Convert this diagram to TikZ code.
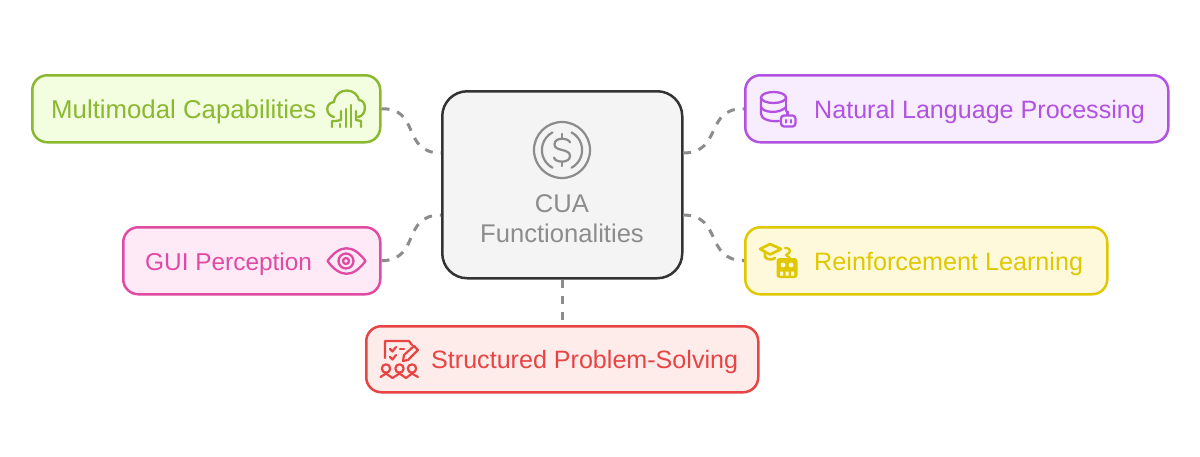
\documentclass[tikz,border=0pt]{standalone}
\usepackage{fontspec}
\setmainfont{Liberation Sans}
\definecolor{gS}{HTML}{8AB82E}\definecolor{gF}{HTML}{F3FDE0}
\definecolor{pS}{HTML}{E04AA2}\definecolor{pF}{HTML}{FEEAF7}
\definecolor{vS}{HTML}{B152E0}\definecolor{vF}{HTML}{F8EDFF}
\definecolor{yS}{HTML}{E0C800}\definecolor{yF}{HTML}{FFF9DC}
\definecolor{rS}{HTML}{E84444}\definecolor{rF}{HTML}{FEECEB}
\definecolor{cS}{HTML}{333333}\definecolor{cF}{HTML}{F4F4F4}
\definecolor{cT}{HTML}{8C8C8C}
\tikzset{
  card/.style={draw=#1S,fill=#1F,line width=2.5pt,rounded corners=15pt,inner sep=0pt},
  lbl/.style={text=#1S,inner sep=0pt,anchor=base west},
  ico/.style={draw=#1S,line width=2.3pt,line cap=round,line join=round},
  link/.style={draw=cT,line width=3pt,dash pattern=on 8pt off 8pt}
}
\newcommand{\fsz}[1]{\fontsize{#1}{30}\selectfont}
\begin{document}
\begin{tikzpicture}[x=1pt,y=-1pt]
\useasboundingbox (0,0) rectangle (1200,456);
% connectors
\coordinate (c1) at (441,153);\coordinate (c2) at (441,215);
\coordinate (c3) at (683,153);\coordinate (c4) at (683,215);
% boxes
\node[card=g,minimum width=348pt,minimum height=67pt,anchor=north west] (mm) at (31,74) {};
\node[card=p,minimum width=257pt,minimum height=67pt,anchor=north west] (gui) at (122,226) {};
\node[card=v,minimum width=423pt,minimum height=67pt,anchor=north west] (nlp) at (744,74) {};
\node[card=y,minimum width=362pt,minimum height=67pt,anchor=north west] (rl) at (744,226) {};
\node[card=r,minimum width=392pt,minimum height=66pt,anchor=north west] (sps) at (365,325) {};
\node[draw=cS,fill=cF,line width=2.5pt,rounded corners=25pt,minimum width=240pt,minimum height=187pt,anchor=north west,inner sep=0pt] (cen) at (441,90) {};
\draw[link] (mm.east) .. controls (421,108) and (401,153) .. (c1);
\draw[link] (gui.east) .. controls (421,260) and (401,215) .. (c2);
\draw[link] (c3) .. controls (723,153) and (704,108) .. (nlp.west);
\draw[link] (c4) .. controls (723,215) and (704,260) .. (rl.west);
\draw[link] (cen.south) -- (sps.north -| cen.south);
% labels
\node[lbl=g,font=\fsz{25.8}] (t1) at (51,118) {Multimodal Capabilities};
\node[lbl=p,font=\fsz{24.4}] (t2) at (145,270) {GUI Perception};
\node[lbl=v,font=\fsz{25.1}] (t3) at (814,118) {Natural Language Processing};
\node[lbl=y,font=\fsz{25.2}] (t4) at (814,270) {Reinforcement Learning};
\node[lbl=r,font=\fsz{25.1}] (t5) at (431,368) {Structured Problem-Solving};
\node[font=\fsz{25.6},text=cT,align=center,inner sep=0pt] (t0) at (562,218.5) {CUA\\Functionalities};
% centre icon
\begin{scope}[draw=cT,line width=2.2pt,line cap=round]
\draw (562,150) circle (28);
\draw (552.5,132.4) arc (242:118:20);
\draw (571.5,132.4) arc (-62:62:20);
\draw (562,134) -- (562,138) (562,162) -- (562,166);
\draw (570,142.5) .. controls (569,138) and (555,136.5) .. (554.5,144) .. controls (554,152) and (570,148) .. (570,156) .. controls (570,163.5) and (555,163) .. (554,157.5);
\end{scope}
% cloud icon
\begin{scope}[ico=g]
\draw (334,117) .. controls (325,115) and (325,103) .. (334,102) .. controls (335,94) and (341,90.5) .. (347,90.5) .. controls (353,90.5) and (358,95) .. (359,100) .. controls (367,100) and (367,116) .. (358,117);
\draw (346,109) -- (346,127) (351,105) -- (351,127);
\draw (341,111) -- (341,120) -- (336,121) -- (332,121) -- (332,127);
\draw (340,127) -- (340,124);
\draw (356,111) -- (356,120) -- (361,121) -- (361,127);
\end{scope}
% eye icon
\begin{scope}[ico=p]
\draw (327.5,261) .. controls (340,244) and (353,244) .. (365.5,261) .. controls (353,278) and (340,278) .. (327.5,261) -- cycle;
\draw (346,261) circle (7.5);
\draw (346,261) circle (3);
\end{scope}
% database + robot icon
\begin{scope}[ico=v]
\draw (773.5,97.5) ellipse (12.5 and 5.5);
\draw (761,97.5) -- (761,114) .. controls (761,119) and (770,122) .. (779,121);
\draw (786,97.5) -- (786,111);
\draw (761,107) .. controls (763,113) and (780,114) .. (786,107);
\draw (787.5,111.5) -- (787.5,115);
\draw[fill=vF,rounded corners=3pt] (781,115.5) rectangle (795.5,126.5);
\draw (786,120) -- (786,122.5) (791,120) -- (791,122.5);
\end{scope}
% cap + robot icon
\begin{scope}[ico=y,line width=2.7pt]
\draw (760,249) -- (770,244) -- (781,249) -- (770,254.5) -- cycle;
\draw (765,252.5) -- (765,257) .. controls (767,260) and (773,260) .. (775,258);
\draw[line width=2.2pt] (785,248) .. controls (792,248) and (791,253) .. (786,255) -- (790,258);
\fill[yS,rounded corners=3pt] (776.5,258) rectangle (797.5,278);
\fill[yF] (783,265) circle (2.4) (791,265) circle (2.4);
\fill[yF] (780,271.5) rectangle (783,275.5) (785.5,271.5) rectangle (788.5,275.5) (791,271.5) rectangle (794,275.5);
\end{scope}
% team + plan icon
\begin{scope}[ico=r,line width=2.2pt]
\draw (385,358) -- (385,341) -- (409,341) -- (412,345);
\draw (390,349) -- (392.5,351.5) -- (396,347);
\draw (390,357) -- (392.5,359.5) -- (396,355);
\draw (400,349) -- (404,349);
\draw (403,361) -- (404,355) -- (414,346) -- (418,350) -- (408,360) -- cycle;
\draw (386,368.5) circle (4.2) (399.5,368.5) circle (4.2) (412,368.5) circle (4.2);
\draw (380.5,377) -- (386,373.5) -- (392.5,378) -- (399.5,373.5) -- (406,378) -- (412,373.5) -- (418,377);
\end{scope}
\end{tikzpicture}
\end{document}
